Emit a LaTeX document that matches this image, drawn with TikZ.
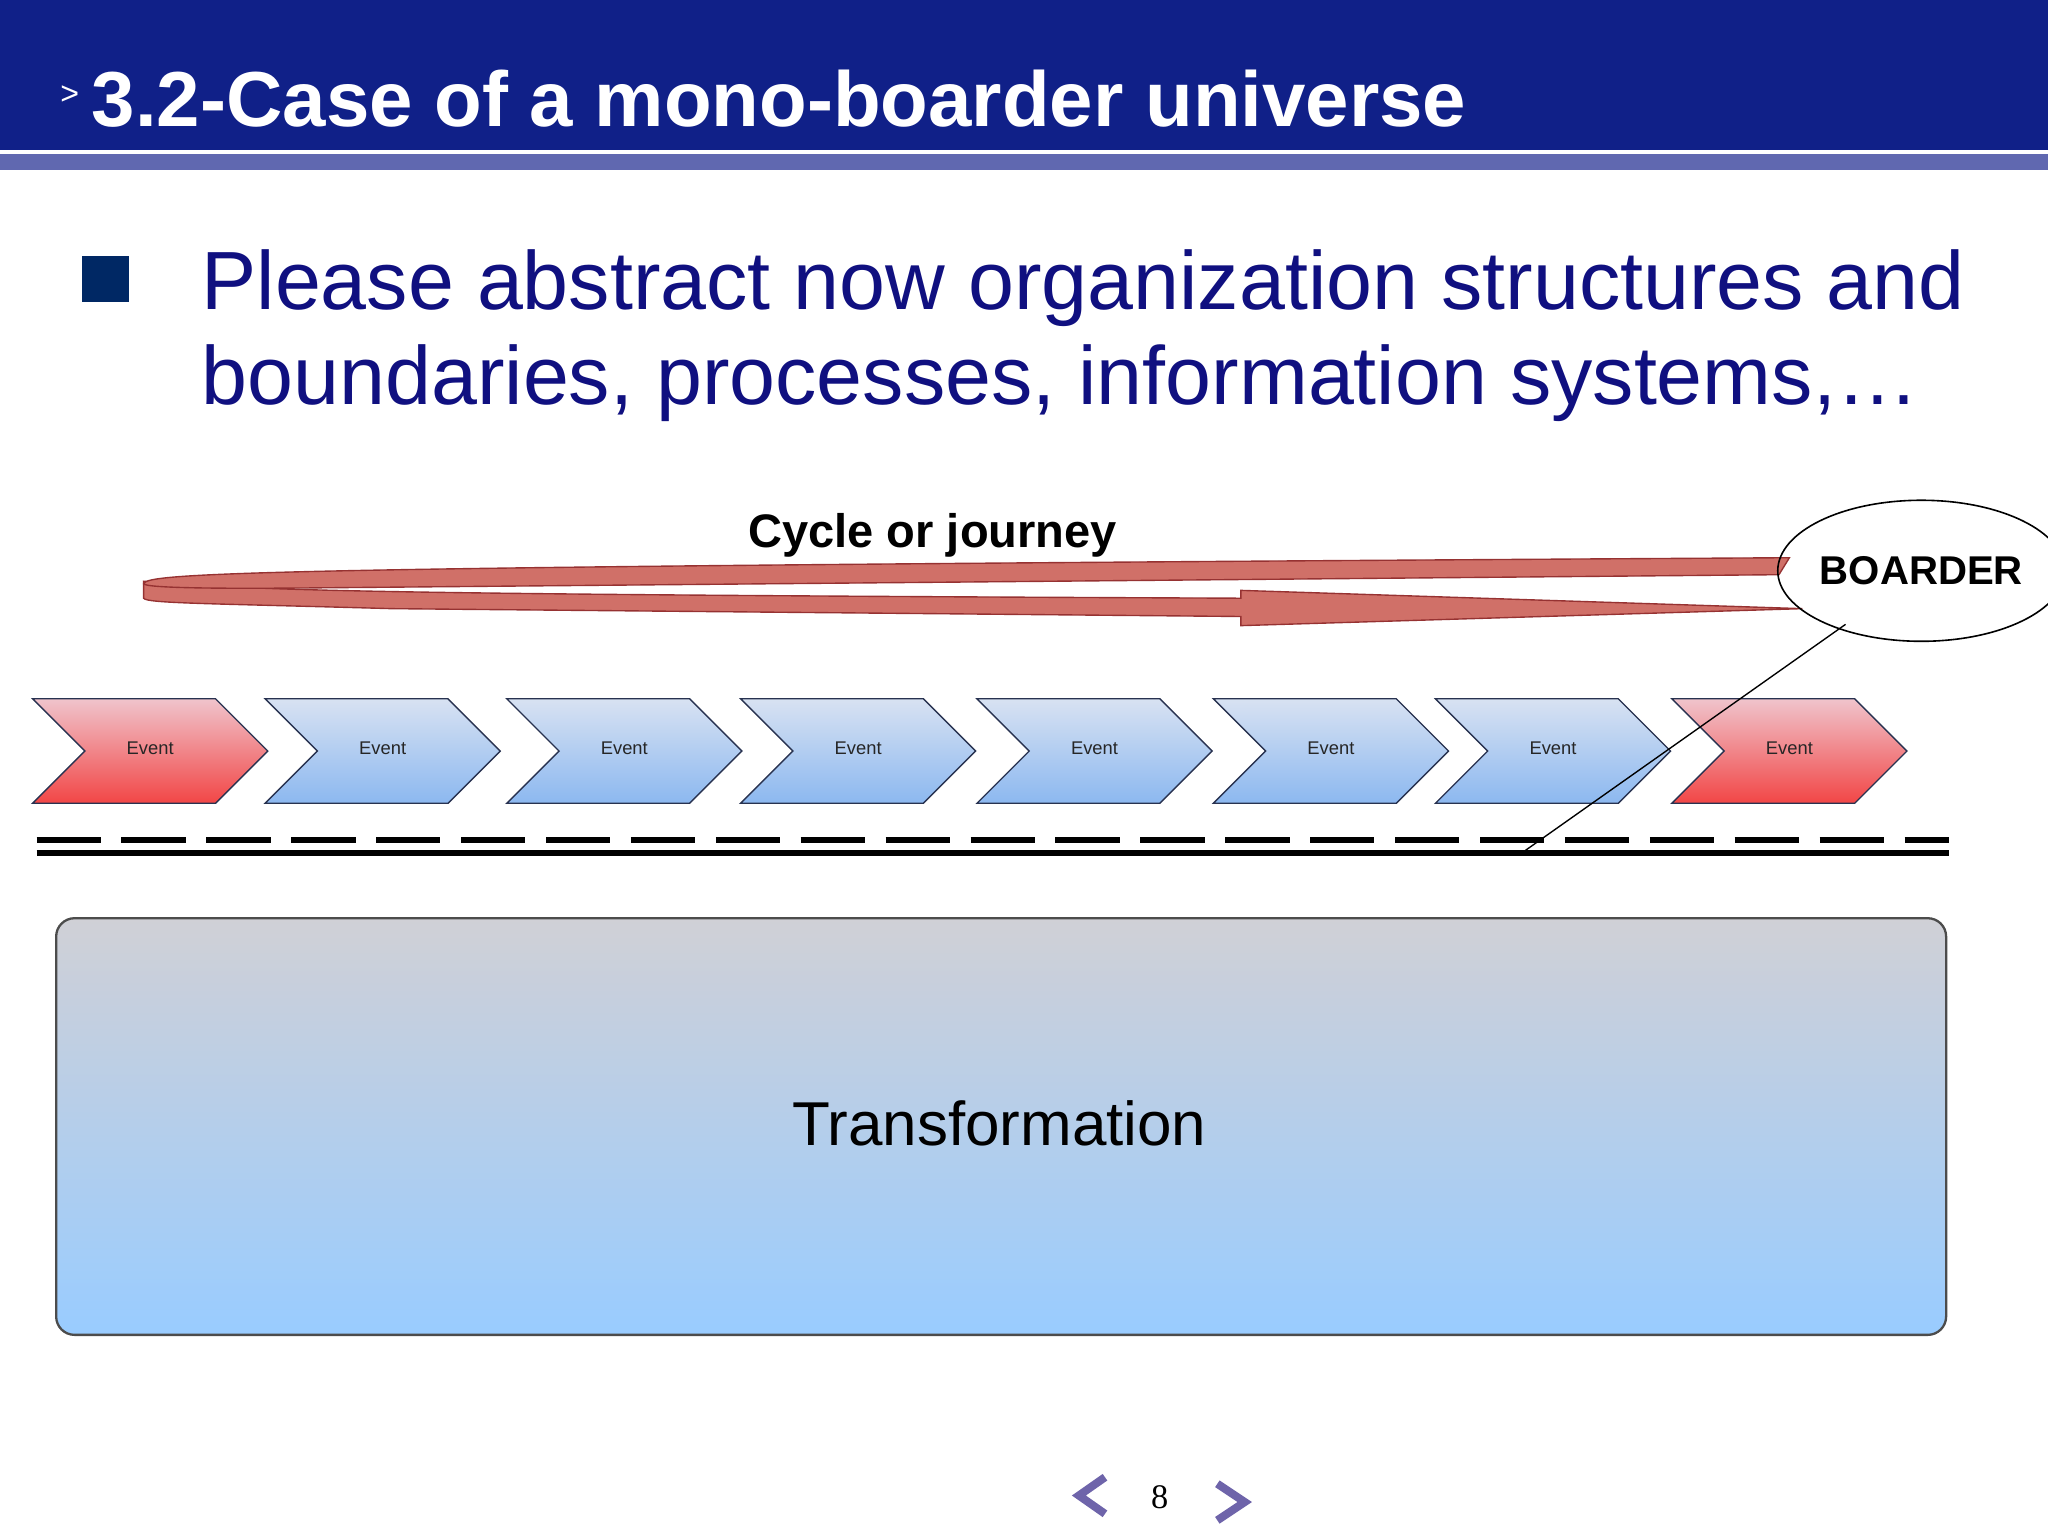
\documentclass[tikz,border=0pt]{standalone}
\usepackage{fontspec}
\setmainfont{Liberation Sans}
\newfontfamily\serifnum{Liberation Serif}
\usetikzlibrary{shapes.geometric}
\definecolor{navy}{RGB}{16,32,136}
\definecolor{stripe}{RGB}{96,104,176}
\definecolor{txtnavy}{RGB}{16,16,128}
\definecolor{bulsq}{RGB}{0,40,100}
\definecolor{salmon}{RGB}{208,112,104}
\definecolor{darkred}{RGB}{150,50,50}
\definecolor{redtop}{RGB}{240,196,204}
\definecolor{redbot}{RGB}{242,70,70}
\definecolor{bluetop}{RGB}{216,226,242}
\definecolor{bluebot}{RGB}{140,184,240}
\definecolor{chevline}{RGB}{40,50,80}
\definecolor{boxtop}{RGB}{208,208,214}
\definecolor{boxbot}{RGB}{153,204,255}
\definecolor{navarrow}{RGB}{110,100,170}
\tikzset{
  redchev/.style={top color=redtop,bottom color=redbot,draw=chevline,line width=0.6pt},
  bluechev/.style={top color=bluetop,bottom color=bluebot,draw=chevline,line width=0.6pt},
  evlabel/.style={font=\fontsize{8}{9}\selectfont,text=black!85},
}
\begin{document}
\begin{tikzpicture}[x=0.02cm,y=-0.02cm]
\useasboundingbox (0,0) rectangle (1568,1176);
% header
\fill[navy] (0,0) rectangle (1568,115);
\fill[stripe] (0,118) rectangle (1568,130);
\draw[white,line width=0.8pt] (0,116.5) -- (1568,116.5);
\node[anchor=base west,text=white,font=\fontsize{14}{16}\selectfont] (gt) at (40,80) {>};
\node[anchor=base west,text=white,font=\bfseries\fontsize{34}{40}\selectfont,inner sep=0] (title) at (70,97) {3.2-Case of a mono-boarder universe};
% bullet
\fill[bulsq] (63,196) rectangle (99,231);
\node[anchor=base west,text=txtnavy,font=\fontsize{36}{41}\selectfont,inner sep=0] (l1) at (154,237) {Please abstract now organization structures and};
\node[anchor=base west,text=txtnavy,font=\fontsize{36}{41}\selectfont,inner sep=0] (l2) at (154,310) {boundaries, processes, information systems,\ldots};
% cycle arrow
\filldraw[fill=salmon,draw=darkred,line width=0.6pt]
  (110,445) .. controls (200,452) and (260,455) .. (950,458) -- (950,452) -- (1380,466) -- (950,479) -- (950,472)
  -- (300,466) .. controls (160,462) and (112,462) .. (110,458) -- cycle;
\filldraw[fill=salmon,draw=darkred,line width=0.6pt]
  (1370,427) -- (1362,440) -- (250,450) .. controls (160,451) and (112,450) .. (110,447)
  .. controls (112,438) and (200,434) .. (1370,427) -- cycle;
\node[font=\bfseries\fontsize{20.5}{24}\selectfont] (cyc) at (714,410) {Cycle or journey};
% boarder
\node[ellipse,draw=black,line width=0.7pt,minimum width=170\pgflinewidth,inner sep=0,
  minimum width=3.4cm,minimum height=2.16cm,font=\bfseries\fontsize{17.5}{20}\selectfont] (boarder) at (1471,437) {BOARDER};
% chevrons
\foreach \x/\s [count=\i] in {25/redchev,203/bluechev,388/bluechev,567/bluechev,748/bluechev,929/bluechev,1099/bluechev,1280/redchev}{
  \filldraw[\s] (\x,535) -- (\x+140,535) -- (\x+180,575) -- (\x+140,615) -- (\x,615) -- (\x+40,575) -- cycle;
  \node[evlabel] (ev\i) at (\x+90,573) {Event};
}
% ground lines
\draw[line width=2.4pt,dash pattern=on 28pt off 9pt] (28,643) -- (1492,643);
\draw[line width=2.4pt] (28,653) -- (1492,653);
\coordinate (gnd) at (1168,651);
\draw[line width=0.6pt] (1413,478) -- (gnd);
% transformation
\draw[top color=boxtop,bottom color=boxbot,draw=black!70,line width=1pt,rounded corners=8pt]
  (43,703) rectangle (1490,1022);
\node[font=\fontsize{27}{32}\selectfont] (tr) at (765,860) {Transformation};
% footer
\draw[navarrow,line width=3.5pt] (846,1131) -- (826,1145) -- (846,1159);
\node[font=\serifnum\fontsize{15}{18}\selectfont] (pg) at (888,1146) {8};
\draw[navarrow,line width=3.5pt] (932,1136) -- (953,1150) -- (932,1164);
\end{tikzpicture}
\end{document}
